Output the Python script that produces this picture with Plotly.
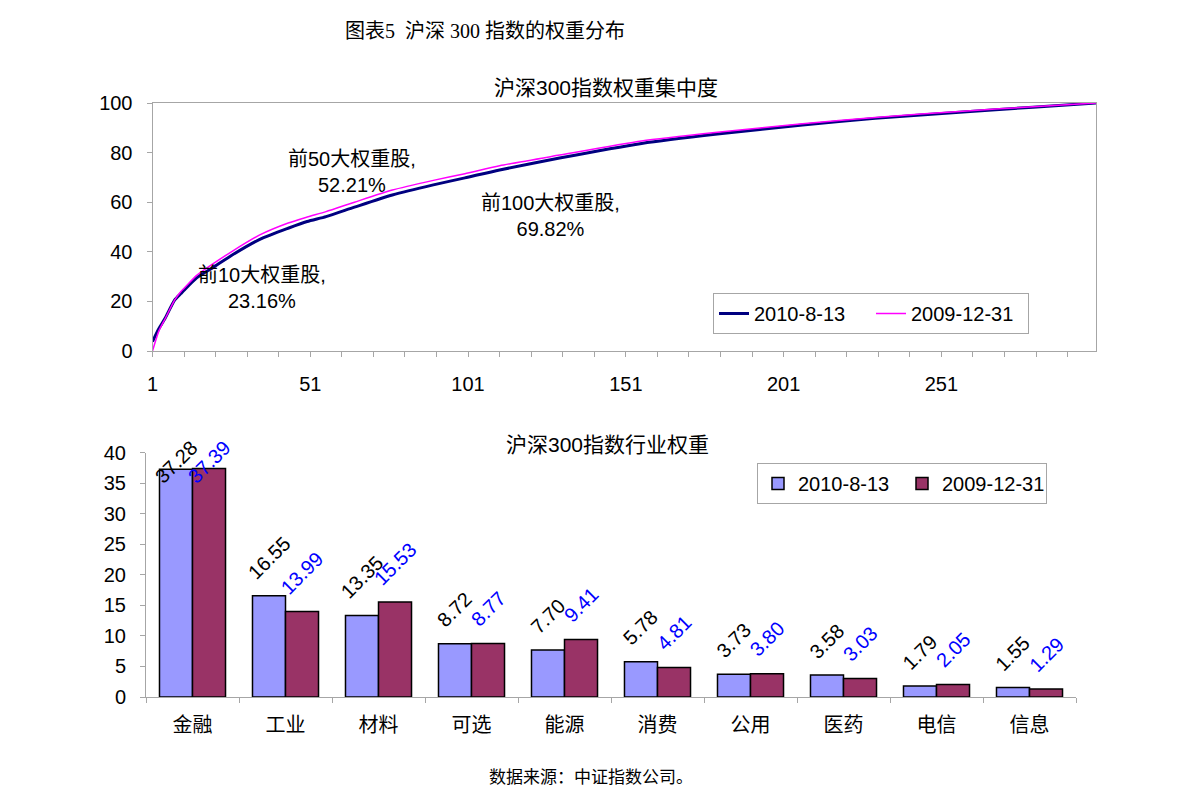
import plotly.graph_objects as go

# ---- data: cumulative weight concentration ----
rank = [1, 3, 5, 8, 10, 11, 15, 20, 26, 35, 44, 50, 56, 65, 77, 90, 100,
        111, 130, 156, 180, 207, 230, 259, 280, 300]
cum_2010 = [3.8, 9.0, 13.2, 20.5, 23.16, 24.5, 29.5, 33.5, 38.5, 45.0, 49.5,
            52.21, 54.2, 58.0, 62.9, 67.0, 69.82, 73.0, 77.8, 83.7, 87.5,
            91.1, 93.8, 96.5, 98.3, 100.0]
cum_2009 = [0.0, 8.0, 13.0, 20.5, 24.0, 25.3, 30.5, 35.0, 40.0, 46.8, 51.6,
            54.0, 56.2, 60.0, 64.9, 68.8, 71.5, 74.7, 79.0, 84.7, 88.2,
            91.6, 94.2, 96.8, 98.5, 100.0]
x_tick_labels = [1, 51, 101, 151, 201, 251]

# ---- data: industry weights ----
industries = ['金融', '工业', '材料', '可选', '能源', '消费', '公用', '医药', '电信', '信息']
w_2010 = [37.28, 16.55, 13.35, 8.72, 7.70, 5.78, 3.73, 3.58, 1.79, 1.55]
w_2009 = [37.39, 13.99, 15.53, 8.77, 9.41, 4.81, 3.80, 3.03, 2.05, 1.29]

series_names = ['2010-8-13', '2009-12-31']

W, H = 1191, 805
FONT = 'Liberation Sans, Arial, Noto Sans CJK SC, sans-serif'
GRAY = '#a6a6a6'

def px(x):
    return x / W

def py(y):
    return 1 - y / H

# bottom chart geometry (pixels)
B_LEFT, B_RIGHT, B_ZERO, B_TOP, B_MAX = 146, 1076, 697, 452.5, 40
unit_px = (B_ZERO - B_TOP) / B_MAX
half_bar = (B_RIGHT - B_LEFT) / len(industries) * (1 - 0.29) / 4

fig = go.Figure()

# top chart lines
fig.add_trace(go.Scatter(x=rank, y=cum_2010, mode='lines', name=series_names[0],
                         line=dict(color='#000080', width=3, shape='spline', smoothing=0.6),
                         xaxis='x', yaxis='y', legend='legend'))
fig.add_trace(go.Scatter(x=rank, y=cum_2009, mode='lines', name=series_names[1],
                         line=dict(color='#FF00FF', width=1.5, shape='spline', smoothing=0.6),
                         xaxis='x', yaxis='y', legend='legend'))

# bottom chart bars
fig.add_trace(go.Bar(x=industries, y=w_2010, name=series_names[0],
                     marker=dict(color='#9999FF', line=dict(color='black', width=1.5)),
                     xaxis='x2', yaxis='y2', legend='legend2'))
fig.add_trace(go.Bar(x=industries, y=w_2009, name=series_names[1],
                     marker=dict(color='#993366', line=dict(color='black', width=1.5)),
                     xaxis='x2', yaxis='y2', legend='legend2'))

axis_common = dict(showgrid=False, zeroline=False, showline=True, linecolor=GRAY,
                   linewidth=1, ticks='outside', ticklen=5, tickcolor=GRAY,
                   tickfont=dict(size=20, color='black', family=FONT),
                   ticklabelstandoff=10, automargin=False)

fig.update_layout(
    width=W, height=H,
    margin=dict(l=0, r=0, t=0, b=0, autoexpand=False),
    paper_bgcolor='white', plot_bgcolor='white',
    font=dict(family=FONT, color='black'),
    xaxis=dict(**axis_common, domain=[px(152.5), px(1096)], range=[1, 300],
               tickvals=x_tick_labels, mirror=True,
               minor=dict(tick0=1, dtick=10, ticks='outside', ticklen=5, tickcolor=GRAY)),
    yaxis=dict(**axis_common, domain=[py(351), py(103)], range=[0, 100], dtick=20,
               mirror=True),
    xaxis2=dict(**axis_common, domain=[px(B_LEFT), px(B_RIGHT)], type='category',
                tickson='boundaries', anchor='y2'),
    yaxis2=dict(**axis_common, domain=[py(B_ZERO), py(B_TOP)], range=[0, B_MAX], dtick=5,
                anchor='x2'),
    barmode='group', bargap=0.29, bargroupgap=0,
    legend=dict(orientation='h', x=px(713), y=py(293), xanchor='left', yanchor='top',
                bordercolor=GRAY, borderwidth=1, font=dict(size=20, family=FONT),
                bgcolor='white', itemwidth=30, entrywidth=112),
    legend2=dict(orientation='h', x=px(757), y=py(463), xanchor='left', yanchor='top',
                 bordercolor=GRAY, borderwidth=1, font=dict(size=20, family=FONT),
                 bgcolor='white', itemwidth=30, entrywidth=99),
    showlegend=True,
)

ann_font = dict(size=20, color='black', family=FONT)

def note(text, x, y, font):
    return dict(text=text, x=px(x), y=py(y), xref='paper', yref='paper',
                xanchor='center', yanchor='middle', showarrow=False, font=font)

annotations = [
    note('图表5  沪深 300 指数的权重分布', 485, 31,
         dict(size=20, family='Liberation Serif, Noto Sans CJK SC, serif', color='black')),
    note('沪深300指数权重集中度', 606, 87, dict(size=21, family=FONT, color='black')),
    note('沪深300指数行业权重', 607, 444, dict(size=21, family=FONT, color='black')),
    note('数据来源：中证指数公司。', 591, 775,
         dict(size=17, family='Noto Sans CJK SC, sans-serif', color='black')),
    note('前10大权重股,<br>23.16%', 262, 288, ann_font),
    note('前50大权重股,<br>52.21%', 352, 172, ann_font),
    note('前100大权重股,<br>69.82%', 550, 216, ann_font),
]

# rotated value labels above each bar (kept inside the chart area like the original)
for values, side, colour in ((w_2010, -1, 'black'), (w_2009, 1, '#0000FF')):
    for cat, v in zip(industries, values):
        shift = min(10, (B_ZERO - 490) - v * unit_px)
        annotations.append(dict(text=f'{v:.2f}', x=cat, y=v, xref='x2', yref='y2',
                                xanchor='center', yanchor='bottom', textangle=-45,
                                xshift=side * half_bar, yshift=shift, showarrow=False,
                                font=dict(size=20, color=colour, family=FONT)))

fig.update_layout(annotations=annotations)

fig.write_html('out.html')
